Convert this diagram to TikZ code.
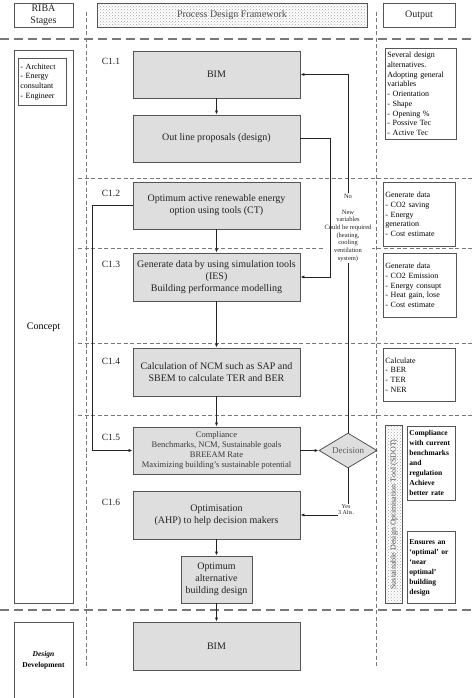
\documentclass[tikz,border=0pt]{standalone}
\usepackage{fontspec}
\setmainfont{Liberation Serif}
\usetikzlibrary{arrows.meta,shapes.geometric,patterns}
\definecolor{boxfill}{RGB}{222,222,222}
\definecolor{edge}{RGB}{85,85,85}
\definecolor{ink}{RGB}{35,35,35}
\definecolor{dashgray}{RGB}{120,120,120}
\begin{document}
\begin{tikzpicture}[x=1pt,y=-1pt,
  mainbox/.style={draw=edge, line width=0.9pt, fill=boxfill, minimum width=167pt, minimum height=47pt, inner sep=2pt, align=center, text=ink, font=\fontsize{10}{12}\selectfont},
  outbox/.style={draw=edge, line width=0.8pt, fill=white, anchor=north west, align=left, inner sep=2pt, font=\fontsize{8}{9.7}\selectfont, text=black},
  conn/.style={draw=ink, line width=0.8pt, -{Latex[length=4pt,width=3.2pt]}},
  thickdash/.style={draw=dashgray, line width=1.4pt, dash pattern=on 9pt off 5pt},
  thindash/.style={draw=dashgray, line width=0.6pt, dash pattern=on 4pt off 2.5pt},
  hatch/.style={pattern=crosshatch dots, pattern color=gray!70},
  clabel/.style={font=\fontsize{9.5}{11}\selectfont, text=ink, fill=white, inner sep=2pt},
  headbox/.style={draw=edge, line width=0.9pt, minimum height=24pt, align=center, inner sep=1pt, font=\fontsize{10}{12}\selectfont, text=ink},
]
\useasboundingbox (0,0) rectangle (474,698);
\fill[white] (0,0) rectangle (474,698);

% dashed guides
\draw[thindash] (86,12) -- (86,668);
\draw[thindash] (376,12) -- (376,668);
\foreach \yy in {178,248,343,415} \draw[thindash] (78,\yy) -- (474,\yy);
\draw[thickdash] (0,39) -- (474,39);
\draw[thickdash] (0,610) -- (474,610);

% header
\node[headbox, minimum width=59pt] (riba) at (43.5,15) {RIBA\\Stages};
\node[headbox, minimum width=270pt, hatch, text=ink!80] (pdf) at (232,15) {Process Design Framework};
\node[headbox, minimum width=72pt] (out) at (419,15) {Output};

% left column
\draw[edge, line width=0.8pt] (14,50) rectangle (73,603);
\node[outbox, text width=44pt, minimum height=47pt] (roles) at (18,58) {- Architect\\- Energy\\consultant\\- Engineer};
\node[font=\fontsize{10}{12}\selectfont, text=black] (concept) at (43.5,327) {Concept};
\draw[edge, line width=0.8pt] (14,699) -- (14,622) -- (73,622) -- (73,699);
\node[align=center, font=\bfseries\fontsize{7.5}{11}\selectfont, text=black] (dd) at (43.5,660) {\textit{Design}\\Development};

% C labels
\node[clabel] (c11) at (111,61) {C1.1};
\node[clabel] (c12) at (111,193) {C1.2};
\node[clabel] (c13) at (111,264) {C1.3};
\node[clabel] (c14) at (111,361) {C1.4};
\node[clabel] (c15) at (111,437) {C1.5};
\node[clabel] (c16) at (111,502) {C1.6};

% main boxes
\node[mainbox] (bim1) at (216.5,74.5) {BIM};
\node[mainbox] (outline) at (216.5,138.5) {Out line proposals (design)};
\node[mainbox] (optact) at (216.5,205.5) {Optimum active renewable energy\\option using tools (CT)};
\node[mainbox, minimum height=48pt] (gen) at (216.5,277) {Generate data by using simulation tools\\(IES)\\Building performance modelling};
\node[mainbox, minimum height=48pt] (ncm) at (216.5,372) {Calculation of NCM such as SAP and\\SBEM to calculate TER and BER};
\node[mainbox, font=\fontsize{8.5}{10.3}\selectfont, text=ink!90] (comp) at (216.5,450.5) {Compliance\\Benchmarks, NCM, Sustainable goals\\BREEAM Rate\\Maximizing building's sustainable potential};
\node[mainbox, minimum height=48pt] (optim) at (216.5,515) {Optimisation\\(AHP) to help decision makers};
\node[mainbox, minimum width=71pt] (optalt) at (216.5,579.5) {Optimum\\alternative\\building design};
\node[mainbox, minimum height=48pt] (bim2) at (216.5,646) {BIM};

\node[diamond, draw=edge, fill=boxfill, line width=0.8pt, minimum width=58pt, minimum height=35pt, inner sep=0pt, aspect=1.66, font=\fontsize{9}{10}\selectfont, text=ink!75] (dec) at (348,450.5) {Decision};

% connectors
\draw[conn] (bim1) -- (outline);
\draw[conn] (optact) -- (gen);
\draw[conn] (gen) -- (ncm);
\draw[conn] (ncm) -- (comp);
\draw[conn] (optim) -- (optalt);
\draw[conn] (optalt) -- (bim2);
\draw[conn] (comp) -- (dec);
\draw[conn] (optact.west) -- ++(-40pt,0) |- (comp.west);
\draw[conn] (dec.north) |- (bim1.east);
\draw[conn] (dec.south) |- (optim.east);

\node[fill=white, inner sep=1pt, align=center, font=\fontsize{6.5}{7.7}\selectfont, text=ink] (nolab) at (348,228) {No\\[7.7pt]New\\variables\\Could be required\\(heating,\\cooling\\ventilation\\system)};
\node[fill=white, inner sep=0.5pt, align=center, font=\fontsize{6}{6}\selectfont, text=ink] (yeslab) at (346,510) {Yes\\3 Alts.};

\draw[conn] (outline.east) -- ++(30pt,0) |- (gen.east);

% output column
\node[outbox, text width=67pt, minimum height=91pt] (o1) at (385,48) {Several design\\alternatives.\\Adopting general\\variables\\- Orientation\\- Shape\\- Opening \%\\- Possive Tec\\- Active Tec};
\node[outbox, text width=68pt, minimum height=64pt] (o2) at (383,182) {Generate data\\- CO2 saving\\- Energy\\generation\\- Cost estimate};
\node[outbox, text width=69pt, minimum height=64pt] (o3) at (383,253) {Generate data\\- CO2 Emission\\- Energy consupt\\- Heat gain, lose\\- Cost estimate};
\node[outbox, text width=68pt, minimum height=53pt] (o4) at (383,348) {Calculate\\- BER\\- TER\\- NER};
\node[draw=edge, line width=0.9pt, hatch, minimum width=17pt, minimum height=178pt, anchor=north west, inner sep=0pt] (sdot) at (385,425) {};
\node[rotate=90, font=\fontsize{8}{9}\selectfont, text=ink!75] (sdottext) at (sdot.center) {Sustainable Design Optimisation Tool (SDOT)};
\node[outbox, text width=44pt, minimum height=74pt, font=\bfseries\fontsize{7.5}{10}\selectfont] (o5) at (407,426) {Compliance\\with current\\benchmarks\\and\\regulation\\Achieve\\better rate};
\node[outbox, text width=44pt, minimum height=72pt, font=\bfseries\fontsize{7.5}{10}\selectfont] (o6) at (407,531) {Ensures an\\`optimal' or\\`near\\optimal'\\building\\design};
\end{tikzpicture}
\end{document}
